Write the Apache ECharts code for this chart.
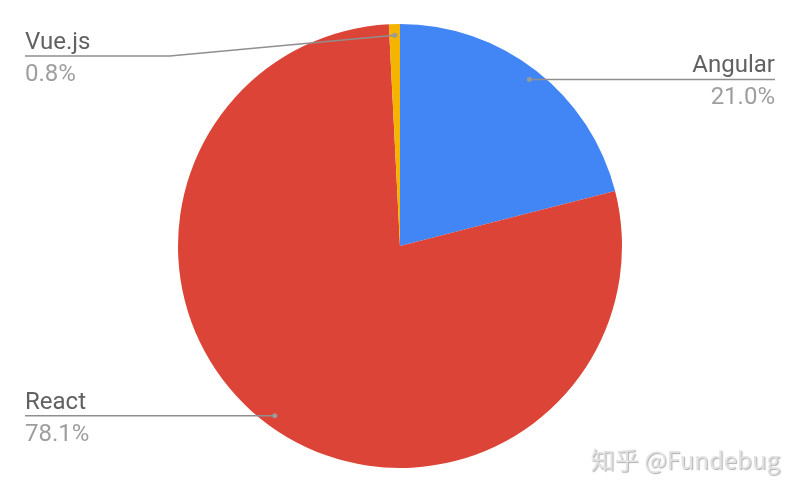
<!DOCTYPE html>
<html>
<head>
<meta charset="utf-8">
<script src="https://cdn.jsdelivr.net/npm/echarts@6/dist/echarts.min.js"></script>
<style>html,body{margin:0;padding:0;background:#fff}#c{width:800px;height:494px}</style>
</head>
<body>
<div id="c"></div>
<script>
const categories = ['Angular', 'React', 'Vue.js'];
const values = [21.0, 78.1, 0.8];
const colors = ['#4285F4', '#DB4437', '#F4B400'];

const CENTER_Y = 246 / 494;
const RADIUS = 222;

const chart = echarts.init(document.getElementById('c'), null, { renderer: 'canvas' });
const anchorPoints = {};

function layoutLabel(params) {
  const cx = chart.getWidth() * 0.5;
  const cy = chart.getHeight() * CENTER_Y;
  const p0 = params.labelLinePoints[0];
  const ix = cx + (p0[0] - cx) * 0.95;
  const iy = cy + (p0[1] - cy) * 0.95;
  anchorPoints[params.dataIndex] = [ix, iy];
  const isLeft = params.labelRect.x < cx;
  const lineY = Math.max(iy, 56);
  const endX = isLeft ? params.labelRect.x : params.labelRect.x + params.labelRect.width;
  let bendX = ix;
  if (lineY !== iy) bendX = isLeft ? ix - 225 : ix + 225;
  return {
    y: lineY + 3,
    labelLinePoints: [[ix, iy], [bendX, lineY], [endX, lineY]]
  };
}

const watermark = {
  type: 'text',
  right: 20,
  bottom: 22,
  z: 10,
  style: {
    text: '知乎 @Fundebug',
    font: '24px "Noto Sans CJK SC", Roboto, sans-serif',
    fill: '#e2e2e2',
    textShadowColor: 'rgba(110,110,110,0.55)',
    textShadowBlur: 1,
    textShadowOffsetX: 1,
    textShadowOffsetY: 1
  }
};

const option = {
  backgroundColor: '#ffffff',
  animation: false,
  graphic: [watermark],
  series: [{
    type: 'pie',
    z: 2,
    center: ['50%', (CENTER_Y * 100) + '%'],
    radius: RADIUS,
    startAngle: 90,
    clockwise: true,
    silent: true,
    data: categories.map((n, i) => ({ name: n, value: values[i], itemStyle: { color: colors[i] } })),
    label: { show: false },
    labelLine: { show: false }
  }, {
    type: 'pie',
    z: 5,
    center: ['50%', (CENTER_Y * 100) + '%'],
    radius: RADIUS,
    startAngle: 90,
    clockwise: true,
    silent: true,
    avoidLabelOverlap: false,
    data: categories.map((n, i) => ({ name: n, value: values[i], itemStyle: { color: 'rgba(0,0,0,0)' } })),
    label: {
      show: true,
      position: 'outside',
      alignTo: 'edge',
      edgeDistance: 25,
      opacity: 1,
      fontFamily: 'Roboto',
      formatter: p => `{n|${p.name}}\n{p|${p.value.toFixed(1)}%}`,
      rich: {
        n: { fontSize: 24, color: '#616161', lineHeight: 32, fontFamily: 'Roboto' },
        p: { fontSize: 24, color: '#9e9e9e', lineHeight: 32, fontFamily: 'Roboto' }
      }
    },
    labelLine: {
      show: true,
      length: 10,
      length2: 10,
      lineStyle: { color: '#8f8f8f', width: 1.5, opacity: 1 }
    },
    labelLayout: layoutLabel
  }]
};
chart.setOption(option);

const dots = Object.keys(anchorPoints).map(k => ({
  type: 'circle',
  z: 20,
  silent: true,
  shape: { cx: anchorPoints[k][0], cy: anchorPoints[k][1], r: 2.5 },
  style: { fill: '#9a9a9a' }
}));
chart.setOption({ graphic: [watermark].concat(dots) }, { replaceMerge: ['graphic'] });
</script>
</body>
</html>
